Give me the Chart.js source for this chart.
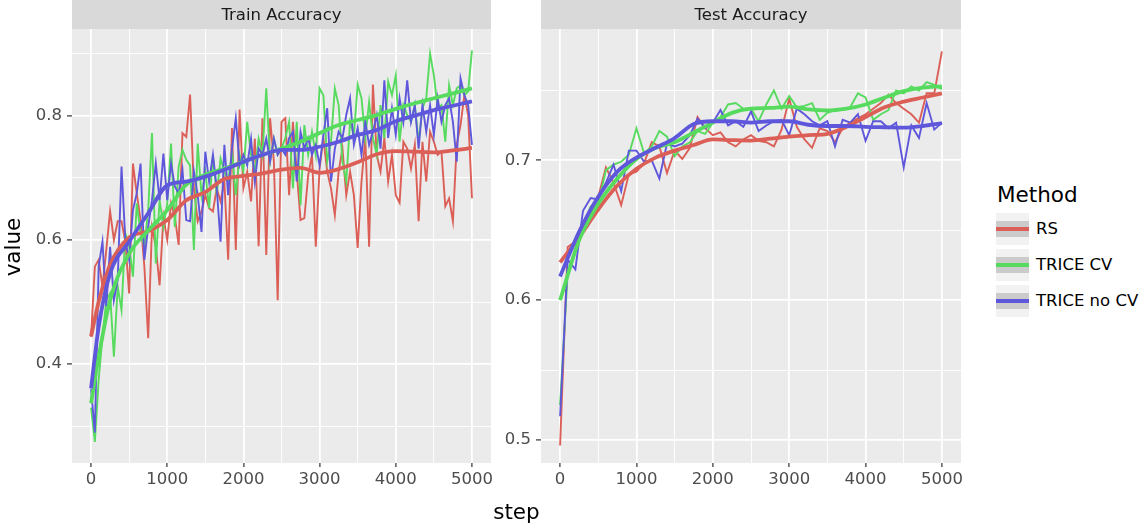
<!DOCTYPE html>
<html><head><meta charset="utf-8">
<script src="https://cdn.jsdelivr.net/npm/chart.js@4.4.0/dist/chart.umd.min.js"></script>
<style>
html,body{margin:0;padding:0;background:#fff;}
body{width:1147px;height:527px;position:relative;overflow:hidden;font-family:"DejaVu Sans",sans-serif;}
canvas{position:absolute;top:0;}
.strip{position:absolute;top:0;height:29px;line-height:29px;font-size:16.5px;color:#1a1a1a;text-align:center;}
.atitle{position:absolute;font-size:21.5px;line-height:21.5px;color:#000;white-space:nowrap;}
.key{position:absolute;left:996px;width:33px;height:32px;background:#f2f2f2;}
.key .band{position:absolute;left:0;right:0;top:8px;height:16px;background:#cbcbcb;}
.key .ln{position:absolute;left:0;right:0;top:14px;height:4px;}
.klab{position:absolute;left:1036px;height:32px;line-height:32px;font-size:16.5px;color:#000;white-space:nowrap;}
</style>
</head><body>
<canvas id="c1" width="500" height="527" style="left:0"></canvas>
<canvas id="c2" width="470" height="527" style="left:500px"></canvas>
<div class="strip" style="left:72px;width:419px">Train Accuracy</div>
<div class="strip" style="left:541px;width:420px">Test Accuracy</div>
<div class="atitle" style="left:466.5px;width:100px;text-align:center;top:501px">step</div>
<div class="atitle" style="left:-37px;width:100px;height:24px;line-height:24px;text-align:center;top:235px;transform:rotate(-90deg)">value</div>
<div class="atitle" style="left:997px;top:184px">Method</div>
<div id="legend"></div>
<script>
// ---------- data ----------
const methods = ["RS", "TRICE CV", "TRICE no CV"];
const colors = ["#db5f57", "#57db5f", "#5f57db"];

const trainSteps = [];
for (let s = 0; s <= 5000; s += 50) trainSteps.push(s);
const testSteps = [];
for (let s = 0; s <= 5000; s += 100) testSteps.push(s);

const trainRS = [
 0.444,0.557,0.568,0.525,0.584,0.646,0.600,0.630,0.630,0.597,
 0.514,0.723,0.675,0.632,0.557,0.442,0.620,0.589,0.527,0.637,
 0.600,0.659,0.637,0.592,0.772,0.766,0.834,0.683,0.630,0.646,
 0.672,0.651,0.646,0.683,0.662,0.694,0.568,0.780,0.584,0.810,
 0.683,0.710,0.662,0.763,0.590,0.796,0.576,0.796,0.726,0.503,
 0.790,0.796,0.672,0.790,0.710,0.632,0.635,0.704,0.737,0.589,
 0.715,0.764,0.710,0.683,0.640,0.710,0.747,0.672,0.710,0.672,
 0.587,0.694,0.764,0.589,0.850,0.737,0.710,0.764,0.694,0.737,
 0.672,0.660,0.758,0.747,0.715,0.753,0.630,0.758,0.694,0.774,
 0.758,0.737,0.742,0.654,0.667,0.630,0.753,0.785,0.833,0.801,
 0.667];
const trainCV = [
 0.330,0.275,0.375,0.444,0.503,0.514,0.412,0.525,0.487,0.611,
 0.589,0.541,0.659,0.611,0.589,0.648,0.772,0.562,0.664,0.621,
 0.659,0.755,0.621,0.718,0.745,0.729,0.720,0.584,0.755,0.672,
 0.710,0.651,0.737,0.672,0.731,0.710,0.694,0.742,0.672,0.737,
 0.710,0.790,0.737,0.710,0.763,0.737,0.844,0.726,0.763,0.737,
 0.747,0.764,0.790,0.683,0.790,0.656,0.785,0.737,0.774,0.737,
 0.844,0.833,0.726,0.758,0.844,0.817,0.726,0.694,0.790,0.769,
 0.850,0.828,0.764,0.822,0.764,0.737,0.817,0.764,0.855,0.833,
 0.865,0.758,0.817,0.801,0.790,0.817,0.758,0.812,0.828,0.900,
 0.865,0.812,0.817,0.758,0.849,0.817,0.844,0.849,0.833,0.839,
 0.905];
const trainNoCV = [
 0.360,0.290,0.557,0.597,0.493,0.589,0.503,0.536,0.718,0.600,
 0.568,0.648,0.675,0.723,0.568,0.621,0.664,0.723,0.664,0.739,
 0.664,0.723,0.686,0.675,0.713,0.632,0.630,0.710,0.672,0.613,
 0.742,0.694,0.737,0.683,0.597,0.753,0.672,0.747,0.796,0.720,
 0.737,0.720,0.763,0.694,0.747,0.737,0.763,0.726,0.763,0.737,
 0.747,0.737,0.764,0.774,0.694,0.774,0.747,0.764,0.737,0.753,
 0.720,0.769,0.812,0.694,0.747,0.774,0.764,0.801,0.828,0.753,
 0.780,0.737,0.790,0.753,0.774,0.801,0.747,0.857,0.764,0.812,
 0.769,0.828,0.790,0.857,0.790,0.817,0.747,0.817,0.774,0.817,
 0.769,0.828,0.790,0.817,0.828,0.790,0.726,0.860,0.833,0.817,
 0.753];

const trainSmoothSteps = [0,100,250,500,750,1000,1250,1500,1750,2000,2250,2500,2750,3000,3250,3500,3750,4000,4250,4500,4750,5000];
const trainSmoothRS   = [0.445,0.500,0.560,0.604,0.614,0.632,0.664,0.677,0.698,0.703,0.707,0.713,0.716,0.708,0.714,0.725,0.738,0.743,0.742,0.741,0.744,0.748];
const trainSmoothCV   = [0.337,0.412,0.503,0.578,0.615,0.648,0.689,0.705,0.715,0.726,0.737,0.747,0.758,0.772,0.785,0.793,0.801,0.811,0.820,0.828,0.836,0.844];
const trainSmoothNoCV = [0.361,0.460,0.546,0.597,0.643,0.688,0.694,0.702,0.713,0.726,0.737,0.745,0.745,0.750,0.758,0.769,0.777,0.791,0.800,0.809,0.816,0.823];

const testRS = [
 0.496,0.638,0.642,0.650,0.662,0.674,0.695,0.684,0.668,0.690,
 0.692,0.698,0.713,0.710,0.691,0.707,0.701,0.709,0.731,0.723,
 0.718,0.720,0.713,0.710,0.715,0.718,0.714,0.713,0.710,0.722,
 0.744,0.724,0.715,0.709,0.723,0.721,0.713,0.723,0.727,0.730,
 0.733,0.737,0.741,0.747,0.741,0.737,0.733,0.727,0.748,0.748,
 0.778];
const testCV = [
 0.525,0.620,0.636,0.653,0.667,0.669,0.693,0.697,0.699,0.704,
 0.723,0.705,0.710,0.721,0.717,0.703,0.710,0.713,0.721,0.719,
 0.727,0.731,0.740,0.741,0.737,0.737,0.728,0.740,0.750,0.737,
 0.746,0.738,0.739,0.741,0.729,0.734,0.736,0.736,0.738,0.748,
 0.745,0.729,0.733,0.736,0.750,0.748,0.753,0.750,0.756,0.754,
 0.751];
const testNoCV = [
 0.517,0.629,0.622,0.664,0.673,0.672,0.684,0.697,0.678,0.707,
 0.707,0.699,0.700,0.687,0.712,0.710,0.712,0.718,0.730,0.723,
 0.727,0.736,0.725,0.728,0.724,0.735,0.721,0.725,0.728,0.729,
 0.718,0.737,0.733,0.728,0.725,0.728,0.710,0.729,0.727,0.733,
 0.714,0.728,0.728,0.723,0.727,0.695,0.725,0.716,0.741,0.722,
 0.727];

const testSmoothSteps = [0,250,500,750,1000,1250,1500,1750,2000,2250,2500,2750,3000,3250,3500,3750,4000,4250,4500,4750,5000];
const testSmoothRS   = [0.627,0.645,0.665,0.682,0.694,0.702,0.707,0.711,0.715,0.7145,0.7142,0.7155,0.717,0.718,0.719,0.724,0.731,0.738,0.742,0.745,0.748];
const testSmoothCV   = [0.600,0.643,0.669,0.687,0.701,0.709,0.713,0.720,0.727,0.734,0.737,0.7375,0.7385,0.7365,0.7357,0.737,0.740,0.745,0.7495,0.752,0.753];
const testSmoothNoCV = [0.617,0.649,0.674,0.692,0.702,0.709,0.716,0.726,0.728,0.728,0.727,0.728,0.728,0.7255,0.7246,0.7246,0.724,0.7237,0.7234,0.7246,0.7266];

const xGrid = [0,500,1000,1500,2000,2500,3000,3500,4000,4500,5000];
const xMajor = [0,1000,2000,3000,4000,5000];
const yGridTrain = [0.3,0.4,0.5,0.6,0.7,0.8,0.9];
const yMajorTrain = [0.4,0.6,0.8];
const yLabelsTrain = ["0.4","0.6","0.8"];
const yGridTest = [0.5,0.55,0.6,0.65,0.7,0.75];
const yMajorTest = [0.5,0.6,0.7];
const yLabelsTest = ["0.5","0.6","0.7"];

// ---------- helpers ----------
const near = (a, b) => Math.abs(a - b) < 1e-9;
const isIn = (arr, v) => arr.some(m => near(m, v));
const pts = (xs, ys) => xs.map((x, i) => ({x: x, y: ys[i]}));

const bgPlugin = {
  id: 'panelbg',
  beforeDraw(chart) {
    const {ctx, chartArea: a} = chart;
    ctx.save();
    ctx.fillStyle = '#ebebeb';
    ctx.fillRect(a.left, a.top, a.right - a.left, a.bottom - a.top);
    ctx.fillStyle = '#d9d9d9';
    ctx.fillRect(a.left, 0, a.right - a.left, a.top);
    ctx.restore();
  }
};

function makeChart(id, yAxisWidth, steps, series, smoothSteps, smooths, yMin, yMax, yGrid, yMajor, yLabels) {
  const datasets = [];
  const n = series.length;
  series.forEach((ys, i) => datasets.push({
    data: pts(steps, ys), borderColor: colors[i], borderWidth: 1.9,
    pointRadius: 0, tension: 0, fill: false, order: 2 * n - i
  }));
  smooths.forEach((ys, i) => datasets.push({
    data: pts(smoothSteps, ys), borderColor: colors[i], borderWidth: 3.8,
    pointRadius: 0, cubicInterpolationMode: 'monotone', fill: false, order: n - i
  }));
  const font = {family: 'DejaVu Sans', size: 16.5};
  return new Chart(document.getElementById(id), {
    type: 'line',
    data: {datasets},
    plugins: [bgPlugin],
    options: {
      responsive: false, animation: false, events: [],
      layout: {padding: {left: 0, top: 29, right: 9, bottom: 0}},
      plugins: {legend: {display: false}, tooltip: {enabled: false}},
      scales: {
        x: {
          type: 'linear', min: -250, max: 5250,
          afterBuildTicks: s => { s.ticks = xGrid.map(v => ({value: v})); },
          afterFit: s => { s.height = 64; },
          ticks: {
            autoSkip: false, maxRotation: 0, padding: 3, color: '#4d4d4d', font,
            callback: v => isIn(xMajor, v) ? String(v) : ''
          },
          grid: {
            color: '#ffffff',
            lineWidth: c => isIn(xMajor, c.tick.value) ? 1.8 : 0.9,
            tickColor: c => isIn(xMajor, c.tick.value) ? '#333333' : 'rgba(0,0,0,0)',
            tickLength: 4, tickWidth: 1.2
          },
          border: {display: false}
        },
        y: {
          type: 'linear', min: yMin, max: yMax,
          afterBuildTicks: s => { s.ticks = yGrid.map(v => ({value: v})); },
          afterFit: s => { s.width = yAxisWidth; },
          ticks: {
            padding: 5, color: '#4d4d4d', font,
            callback: v => { const k = yMajor.findIndex(m => near(m, v)); return k >= 0 ? yLabels[k] : ''; }
          },
          grid: {
            color: '#ffffff',
            lineWidth: c => isIn(yMajor, c.tick.value) ? 1.8 : 0.9,
            tickColor: c => isIn(yMajor, c.tick.value) ? '#333333' : 'rgba(0,0,0,0)',
            tickLength: 5, tickWidth: 1.2
          },
          border: {display: false}
        }
      }
    }
  });
}

makeChart('c1', 72, trainSteps, [trainRS, trainCV, trainNoCV], trainSmoothSteps,
  [trainSmoothRS, trainSmoothCV, trainSmoothNoCV], 0.241, 0.9395, yGridTrain, yMajorTrain, yLabelsTrain);
makeChart('c2', 41, testSteps, [testRS, testCV, testNoCV], testSmoothSteps,
  [testSmoothRS, testSmoothCV, testSmoothNoCV], 0.4835, 0.794, yGridTest, yMajorTest, yLabelsTest);

// ---------- legend ----------
const leg = document.getElementById('legend');
methods.forEach((m, i) => {
  const top = 213 + i * 36;
  const k = document.createElement('div');
  k.className = 'key'; k.style.top = top + 'px';
  k.innerHTML = '<div class="band"></div><div class="ln" style="background:' + colors[i] + '"></div>';
  leg.appendChild(k);
  const l = document.createElement('div');
  l.className = 'klab'; l.style.top = top + 'px'; l.textContent = m;
  leg.appendChild(l);
});
</script>
</body></html>
